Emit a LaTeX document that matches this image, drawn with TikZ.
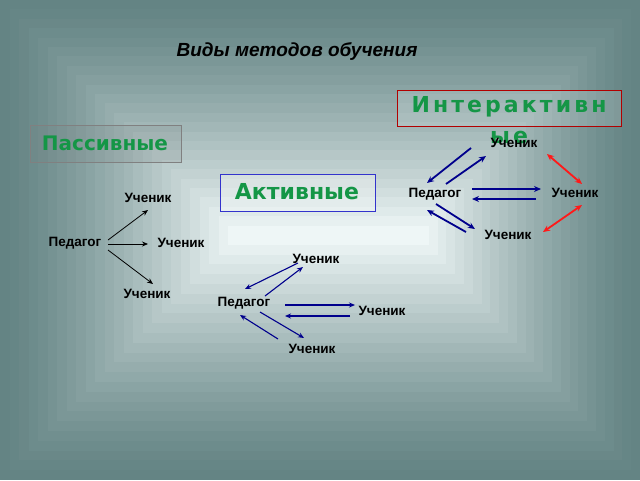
\documentclass[tikz,border=0pt]{standalone}
\usepackage{fontspec}
\setmainfont{Liberation Sans}
\newfontfamily\hfont{DejaVu Sans}
\usetikzlibrary{arrows.meta}
\definecolor{bgout}{RGB}{100,132,132}
\definecolor{bgin}{RGB}{238,246,246}
\definecolor{hgreen}{RGB}{20,150,70}
\begin{document}
\begin{tikzpicture}[x=1pt,y=-1pt,
 lbl/.style={font=\bfseries\fontsize{13.5}{15}\selectfont,inner sep=1pt},
 hdr/.style={font=\hfont\bfseries\fontsize{20}{22}\selectfont,text=hgreen,inner sep=0pt},
 blk/.style={-{Stealth[length=6pt,width=5pt]},thick,black},
 blu/.style={-{Stealth[length=7pt,width=6pt]},line width=1.8pt,blue!55!black},
 bluthin/.style={-{Stealth[length=6pt,width=5pt]},line width=1.1pt,blue!55!black},
 rdd/.style={{Stealth[length=7pt,width=6pt]}-{Stealth[length=7pt,width=6pt]},line width=1.8pt,red!90!white}]
\useasboundingbox (0,0) rectangle (640,480);
\foreach \i in {0,...,24}{
  \pgfmathsetmacro{\t}{(\i/24)^1.3*100}
  \fill[bgin!\t!bgout] (0+\i*9.5,0+\i*9.4) rectangle (640-\i*8.8,480-\i*9.8);
}
\node[font=\bfseries\itshape\fontsize{19}{21}\selectfont] (title) at (297,52) {Виды методов обучения};
% boxes
\draw[red!70!black,fill=white,fill opacity=0.15] (397,90) rectangle (621,126);
\node[hdr,font=\hfont\bfseries\fontsize{22}{24}\selectfont\addfontfeatures{LetterSpace=14}] (it1) at (509,107) {Интерактивн};
\node[hdr,font=\hfont\bfseries\fontsize{22}{24}\selectfont\addfontfeatures{LetterSpace=14}] (it2) at (509,137) {ые};
\draw[gray,fill=gray,fill opacity=0.15] (30,125) rectangle (181,162);
\node[hdr] (pas) at (105,143) {Пассивные};
\draw[blue!60!gray,fill=white,fill opacity=0.3] (220,174) rectangle (375,211);
\node[hdr,font=\hfont\bfseries\fontsize{22}{24}\selectfont] (act) at (297,192) {Активные};
% passive
\node[lbl] (pp) at (75,243) {Педагог};
\node[lbl] (p1) at (148,198) {Ученик};
\node[lbl] (p2) at (181,243) {Ученик};
\node[lbl] (p3) at (147,294) {Ученик};
\coordinate (pa1) at (108,240); \coordinate (pb1) at (148,210);
\coordinate (pa2) at (108,244); \coordinate (pb2) at (148,244);
\coordinate (pa3) at (108,250); \coordinate (pb3) at (153,284);
\draw[blk] (pa1) -- (pb1);
\draw[blk] (pa2) -- (pb2);
\draw[blk] (pa3) -- (pb3);
% active
\node[lbl] (ap) at (244,303) {Педагог};
\node[lbl] (a1) at (316,259) {Ученик};
\node[lbl] (a2) at (382,311) {Ученик};
\node[lbl] (a3) at (312,349) {Ученик};
\coordinate (q1) at (298,263); \coordinate (q2) at (245,289);
\coordinate (q3) at (265,296); \coordinate (q4) at (303,267);
\coordinate (q5) at (285,305); \coordinate (q6) at (355,305);
\coordinate (q7) at (350,316); \coordinate (q8) at (285,316);
\coordinate (q9) at (260,312); \coordinate (q10) at (304,338);
\coordinate (q11) at (278,339); \coordinate (q12) at (240,315);
\draw[bluthin] (q1) -- (q2);
\draw[bluthin] (q3) -- (q4);
\draw[bluthin] (q5) -- (q6);
\draw[bluthin] (q7) -- (q8);
\draw[bluthin] (q9) -- (q10);
\draw[bluthin] (q11) -- (q12);
% interactive
\node[lbl] (ip) at (435,194) {Педагог};
\node[lbl] (i1) at (514,143) {Ученик};
\node[lbl] (i2) at (575,193) {Ученик};
\node[lbl] (i3) at (508,235) {Ученик};
\coordinate (r1) at (471,148); \coordinate (r2) at (427,183);
\coordinate (r3) at (446,184); \coordinate (r4) at (486,156);
\coordinate (r5) at (472,189); \coordinate (r6) at (541,189);
\coordinate (r7) at (536,199); \coordinate (r8) at (472,199);
\coordinate (r9) at (436,204); \coordinate (r10) at (475,229);
\coordinate (r11) at (466,232); \coordinate (r12) at (427,210);
\coordinate (r13) at (547,154); \coordinate (r14) at (582,184);
\coordinate (r15) at (543,232); \coordinate (r16) at (582,205);
\draw[blu] (r1) -- (r2);
\draw[blu] (r3) -- (r4);
\draw[blu] (r5) -- (r6);
\draw[blu] (r7) -- (r8);
\draw[blu] (r9) -- (r10);
\draw[blu] (r11) -- (r12);
\draw[rdd] (r13) -- (r14);
\draw[rdd] (r15) -- (r16);
\end{tikzpicture}
\end{document}
